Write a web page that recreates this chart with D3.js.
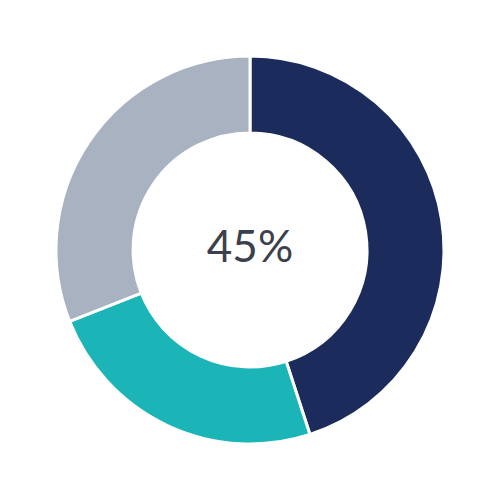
<!DOCTYPE html>
<html>
<head>
<meta charset="utf-8">
<script src="https://cdn.jsdelivr.net/npm/d3@7"></script>
<style>
  html, body { margin: 0; padding: 0; background: #fff; }
</style>
</head>
<body>
<div id="chart"></div>
<script>
// slice data, clockwise from 12 o'clock
var categories = ["A", "B", "C"];
var values = [45, 24, 31];
var colors = ["#1b2b5b", "#1bb4b7", "#a8b2c1"];
var centerLabel = "45%";

var width = 500, height = 500;

var svg = d3.select("#chart")
  .append("svg")
  .attr("width", width)
  .attr("height", height);

var g = svg.append("g")
  .attr("transform", "translate(250,250)");

var pie = d3.pie()
  .sort(null)
  .value(function(d, i) { return values[i]; });

var arc = d3.arc()
  .innerRadius(117)
  .outerRadius(194);

g.selectAll("path")
  .data(pie(categories))
  .enter()
  .append("path")
  .attr("d", arc)
  .attr("fill", function(d, i) { return colors[i]; })
  .attr("stroke", "#fff")
  .attr("stroke-width", 3);

g.append("text")
  .attr("x", 0)
  .attr("y", 12)
  .attr("text-anchor", "middle")
  .style("font-family", "Lato, sans-serif")
  .style("font-size", "44px")
  .style("fill", "#3b404b")
  .text(centerLabel);
</script>
</body>
</html>
